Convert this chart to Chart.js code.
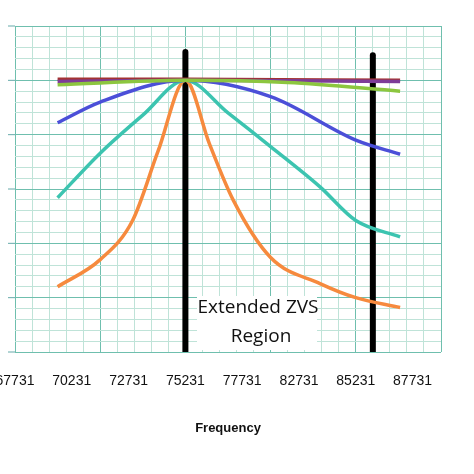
<!DOCTYPE html>
<html>
<head>
<meta charset="utf-8">
<script src="https://cdn.jsdelivr.net/npm/chart.js@4"></script>
<style>
  html, body { margin: 0; padding: 0; background: #fff; }
  #wrap { width: 474px; height: 474px; }
</style>
</head>
<body>
<div id="wrap"><canvas id="c"></canvas></div>
<script>
// frequency tick labels and where they sit on the x axis (grid units)
const freqLabels = ['67731', '70231', '72731', '75231', '77731', '82731', '85231', '87731'];
const freqPos = [0, 3.33, 6.67, 10, 13.33, 16.67, 20, 23.33];

// curves (x in grid units, y in grid units)
const redX = [2.5, 10, 22.6];
const redY = [25.1, 25.1, 25.0];
const purpleX = [2.5, 10, 22.6];
const purpleY = [24.9, 25.0, 24.9];
const greenX = [2.5, 10, 16, 22.6];
const greenY = [24.6, 25.0, 24.8, 24.0];
const blueX = [2.5, 5, 10, 15, 20, 22.6];
const blueY = [21.1, 23.0, 25.0, 23.5, 19.5, 18.2];
const tealX = [2.5, 5, 7.5, 10, 12.5, 15, 17.9, 20, 22.6];
const tealY = [14.2, 18.3, 21.8, 25.0, 22.0, 18.9, 15.2, 12.1, 10.6];
const orangeX = [2.5, 5, 6.9, 8.4, 10, 11.4, 12.8, 15, 17.9, 20, 22.6];
const orangeY = [6.0, 8.5, 12.1, 18.5, 25.0, 19.2, 14.0, 8.7, 6.3, 5.0, 4.1];

// black region markers
const markerX = [10, 21.0];
const markerTop = [27.6, 27.3];

const pts = (xs, ys) => xs.map((x, i) => ({ x: x, y: ys[i] }));

function line(label, xs, ys, color) {
  return {
    label: label,
    data: pts(xs, ys),
    borderColor: color,
    borderWidth: 3.5,
    pointRadius: 0,
    cubicInterpolationMode: 'monotone',
    fill: false
  };
}

const datasets = [
  line('green', greenX, greenY, '#8cc63f'),
  line('purple', purpleX, purpleY, '#7d3c98'),
  line('red', redX, redY, '#a33232'),
  line('blue', blueX, blueY, '#4b4fd8'),
  line('teal', tealX, tealY, '#3cc4b0'),
  line('orange', orangeX, orangeY, '#f68a3e')
];
markerX.forEach((x, i) => {
  datasets.push({
    label: 'marker' + i,
    data: [{ x: x, y: 0 }, { x: x, y: markerTop[i] }],
    borderColor: '#000',
    borderWidth: 6,
    borderCapStyle: 'round',
    pointRadius: 0
  });
});

const labelsPlugin = {
  id: 'labels',
  afterDraw(chart) {
    const { ctx, scales: { x, y }, chartArea } = chart;
    ctx.save();
    // y tick marks
    ctx.strokeStyle = '#6aa';
    ctx.lineWidth = 1;
    for (let v = 0; v <= 30; v += 5) {
      const py = y.getPixelForValue(v);
      ctx.beginPath();
      ctx.moveTo(chartArea.left - 7, py);
      ctx.lineTo(chartArea.left, py);
      ctx.stroke();
    }
    // x labels
    ctx.fillStyle = '#111';
    ctx.font = '14px "Liberation Sans", sans-serif';
    ctx.textAlign = 'center';
    ctx.textBaseline = 'middle';
    freqLabels.forEach((t, i) => {
      ctx.fillText(t, x.getPixelForValue(freqPos[i]), chartArea.bottom + 29);
    });
    ctx.font = 'bold 13px "Liberation Sans", sans-serif';
    ctx.fillText('Frequency', 228, 428);
    // annotation
    ctx.fillStyle = '#fff';
    ctx.fillRect(197, 296, 120, 54);
    ctx.fillStyle = '#111';
    ctx.font = '19px "Open Sans", sans-serif';
    ctx.fillText('Extended ZVS', 258, 308);
    ctx.fillText('Region', 261, 337);
    ctx.restore();
  }
};

const gridColor = (c) => (c.tick && c.tick.value % 5 === 0) ? '#6fbfae' : '#bfe3d8';

new Chart(document.getElementById('c'), {
  type: 'line',
  data: { datasets: datasets },
  options: {
    responsive: true,
    maintainAspectRatio: false,
    animation: false,
    layout: { padding: { left: 15, top: 26, right: 33, bottom: 122 } },
    plugins: { legend: { display: false }, tooltip: { enabled: false } },
    scales: {
      x: {
        type: 'linear', min: 0, max: 25,
        ticks: { stepSize: 1, display: false },
        grid: { color: gridColor, drawTicks: false, lineWidth: 1 },
        border: { display: false }
      },
      y: {
        type: 'linear', min: 0, max: 30,
        ticks: { stepSize: 1, display: false },
        grid: { color: gridColor, drawTicks: false, lineWidth: 1 },
        border: { display: false }
      }
    }
  },
  plugins: [labelsPlugin]
});
</script>
</body>
</html>
